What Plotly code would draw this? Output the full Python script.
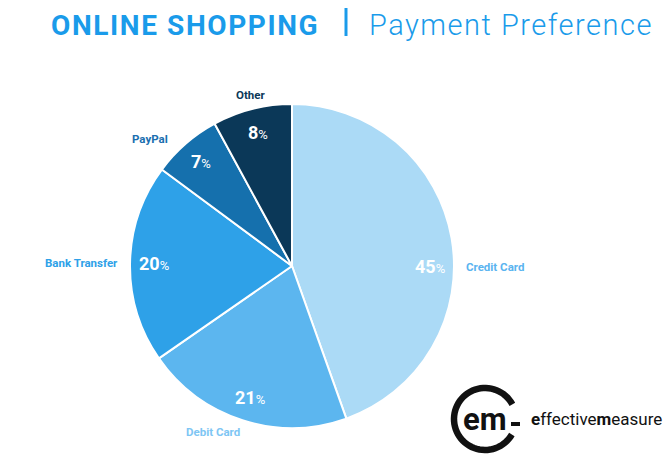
import math
import plotly.graph_objects as go

# ---- data ----
categories = ["Credit Card", "Debit Card", "Bank Transfer", "PayPal", "Other"]
shares = [45, 21, 20, 7, 8]

# ---- styles ----
slice_colors = ["#ABDAF6", "#5CB6EF", "#2EA1E8", "#1570AD", "#0B3858"]
label_colors = ["#5AB4F0", "#7EC6F4", "#2EA1E8", "#1B6FB0", "#0B3858"]
pct_angle_nudge = [10, 0, 0, 0, 0]       # degrees, label placement tweaks
cat_angle_nudge = [10, 9, 0, -3, 0]
cat_radius = [172, 176, 172, 176, 167]

W, H = 671, 454
OFF = 8                      # page body margin offset
CX, CY, R = 292, 266, 162    # page-pixel geometry of the pie

fig = go.Figure()
fig.add_trace(go.Pie(
    labels=categories, values=shares, sort=False, direction="clockwise", rotation=0,
    marker=dict(colors=slice_colors, line=dict(color="white", width=2)),
    textinfo="none", hoverinfo="label+value", showlegend=False,
    domain=dict(x=[(CX - OFF - R) / W, (CX - OFF + R) / W],
                y=[1 - (CY - OFF + R) / H, 1 - (CY - OFF - R) / H]),
))

annotations = []
total = sum(shares)
cum = 0.0
for i, (cat, v) in enumerate(zip(categories, shares)):
    start = cum / total * 360
    cum += v
    end = cum / total * 360
    mid = (start + end) / 2
    a = math.radians(mid + pct_angle_nudge[i])
    px, py = CX + 138 * math.sin(a), CY - 138 * math.cos(a)
    annotations.append(dict(
        x=px, y=py, xref="x", yref="y", showarrow=False,
        text=f"<b>{v}</b><span style='font-size:13px'>%</span>",
        font=dict(family="Roboto", size=18, color="white"),
        xanchor="center", yanchor="middle"))
    b = math.radians(mid + cat_angle_nudge[i])
    s, c = math.sin(b), math.cos(b)
    rr = cat_radius[i]
    lx, ly = CX + rr * s, CY - rr * c
    xa = "left" if s > 0.5 else ("right" if s < -0.5 else "center")
    ya = "middle" if abs(c) < 0.8 else ("bottom" if c > 0 else "top")
    annotations.append(dict(
        x=lx, y=ly, xref="x", yref="y", showarrow=False,
        text=f"<b>{cat}</b>",
        font=dict(family="Roboto", size=11.5, color=label_colors[i]),
        xanchor=xa, yanchor=ya))

# title
annotations.append(dict(x=49, y=25, xref="x", yref="y", showarrow=False,
                        text="<span style='letter-spacing:1.6px'><b>ONLINE SHOPPING</b></span>",
                        xanchor="left", yanchor="middle",
                        font=dict(family="Roboto", size=28, color="#1A9BEA")))
annotations.append(dict(x=367, y=25, xref="x", yref="y", showarrow=False,
                        text="<span style='letter-spacing:1.5px'>Payment Preference</span>",
                        xanchor="left", yanchor="middle",
                        font=dict(family="Roboto", size=29, color="#1A9BEA", weight=300)))

# logo text
annotations.append(dict(x=485, y=419, xref="x", yref="y", showarrow=False,
                        text="<b>em</b>", xanchor="center", yanchor="middle",
                        font=dict(family="Roboto", size=31, color="#111111")))
annotations.append(dict(x=529, y=419, xref="x", yref="y", showarrow=False,
                        text="<b>e</b>ffective<b>m</b>easure", xanchor="left", yanchor="middle",
                        font=dict(family="Roboto", size=17, color="#111111")))

shapes = []
shapes.append(dict(type="line", xref="x", yref="y", x0=346, x1=346, y0=8, y1=36,
                   line=dict(color="#1A9BEA", width=3)))
lcx, lcy, lr = 485, 419, 31
pts = []
for k in range(0, 61):
    ang = math.radians(28 + k * (302 / 60))
    pts.append((lcx + lr * math.cos(ang), lcy - lr * math.sin(ang)))
path = "M " + " L ".join(f"{x:.2f},{y:.2f}" for x, y in pts)
shapes.append(dict(type="path", xref="x", yref="y", path=path,
                   line=dict(color="#111111", width=6.5)))
shapes.append(dict(type="line", xref="x", yref="y", x0=511, x1=520, y0=424, y1=424,
                   line=dict(color="#111111", width=4)))

fig.update_layout(
    width=W, height=H, margin=dict(l=0, r=0, t=0, b=0),
    paper_bgcolor="white", plot_bgcolor="rgba(0,0,0,0)",
    xaxis=dict(range=[OFF, W + OFF], visible=False, fixedrange=True),
    yaxis=dict(range=[H + OFF, OFF], visible=False, fixedrange=True),
    annotations=annotations, shapes=shapes, showlegend=False,
)
fig.write_html("out.html")
